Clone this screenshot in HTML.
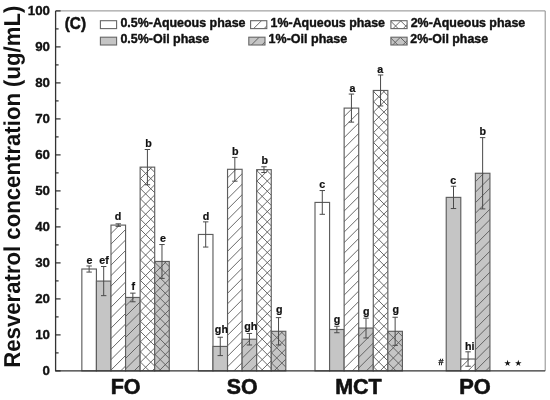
<!DOCTYPE html><html><head><meta charset="utf-8"><style>html,body{margin:0;padding:0;background:#fff;}svg{display:block;}text{font-family:"Liberation Sans",Arial,sans-serif;font-weight:bold;fill:#111;}</style></head><body>
<svg width="550" height="400" viewBox="0 0 550 400">
<defs>
</defs>
<rect x="81.85" y="269.02" width="14.57" height="101.88" fill="#fff"/>
<rect x="81.85" y="269.02" width="14.57" height="101.88" fill="none" stroke="#5e5e5e" stroke-width="1.15"/>
<path d="M89.13,265.96 V272.08 M86.43,265.96 h5.4 M86.43,272.08 h5.4" stroke="#4a4a4a" stroke-width="1" fill="none"/>
<rect x="96.42" y="281.08" width="14.57" height="89.82" fill="#c5c5c5"/>
<rect x="96.42" y="281.08" width="14.57" height="89.82" fill="none" stroke="#5e5e5e" stroke-width="1.15"/>
<path d="M103.70,266.50 V295.66 M101.00,266.50 h5.4 M101.00,295.66 h5.4" stroke="#4a4a4a" stroke-width="1" fill="none"/>
<rect x="110.99" y="225.10" width="14.57" height="145.80" fill="#fff"/>
<clipPath id="cFO2"><rect x="110.99" y="225.10" width="14.57" height="145.80"/></clipPath><path clip-path="url(#cFO2)" d="M109.99,224.10 L126.56,207.53 M109.99,234.60 L126.56,218.03 M109.99,245.10 L126.56,228.53 M109.99,255.60 L126.56,239.03 M109.99,266.10 L126.56,249.53 M109.99,276.60 L126.56,260.03 M109.99,287.10 L126.56,270.53 M109.99,297.60 L126.56,281.03 M109.99,308.10 L126.56,291.53 M109.99,318.60 L126.56,302.03 M109.99,329.10 L126.56,312.53 M109.99,339.60 L126.56,323.03 M109.99,350.10 L126.56,333.53 M109.99,360.60 L126.56,344.03 M109.99,371.10 L126.56,354.53 M109.99,381.60 L126.56,365.03" stroke="#585858" stroke-width="0.9" fill="none"/>
<rect x="110.99" y="225.10" width="14.57" height="145.80" fill="none" stroke="#5e5e5e" stroke-width="1.15"/>
<path d="M118.27,223.84 V226.36 M115.57,223.84 h5.4 M115.57,226.36 h5.4" stroke="#4a4a4a" stroke-width="1" fill="none"/>
<rect x="125.56" y="297.46" width="14.57" height="73.44" fill="#c5c5c5"/>
<clipPath id="cFO3"><rect x="125.56" y="297.46" width="14.57" height="73.44"/></clipPath><path clip-path="url(#cFO3)" d="M124.56,296.46 L141.13,279.89 M124.56,306.96 L141.13,290.39 M124.56,317.46 L141.13,300.89 M124.56,327.96 L141.13,311.39 M124.56,338.46 L141.13,321.89 M124.56,348.96 L141.13,332.39 M124.56,359.46 L141.13,342.89 M124.56,369.96 L141.13,353.39 M124.56,380.46 L141.13,363.89" stroke="#585858" stroke-width="0.9" fill="none"/>
<rect x="125.56" y="297.46" width="14.57" height="73.44" fill="none" stroke="#5e5e5e" stroke-width="1.15"/>
<path d="M132.84,293.14 V301.78 M130.15,293.14 h5.4 M130.15,301.78 h5.4" stroke="#4a4a4a" stroke-width="1" fill="none"/>
<rect x="140.13" y="167.14" width="14.57" height="203.76" fill="#fff"/>
<clipPath id="cFO4"><rect x="140.13" y="167.14" width="14.57" height="203.76"/></clipPath><path clip-path="url(#cFO4)" d="M139.13,169.74 L155.70,153.17 M139.13,179.94 L155.70,163.37 M139.13,190.14 L155.70,173.57 M139.13,200.34 L155.70,183.77 M139.13,210.54 L155.70,193.97 M139.13,220.74 L155.70,204.17 M139.13,230.94 L155.70,214.37 M139.13,241.14 L155.70,224.57 M139.13,251.34 L155.70,234.77 M139.13,261.54 L155.70,244.97 M139.13,271.74 L155.70,255.17 M139.13,281.94 L155.70,265.37 M139.13,292.14 L155.70,275.57 M139.13,302.34 L155.70,285.77 M139.13,312.54 L155.70,295.97 M139.13,322.74 L155.70,306.17 M139.13,332.94 L155.70,316.37 M139.13,343.14 L155.70,326.57 M139.13,353.34 L155.70,336.77 M139.13,363.54 L155.70,346.97 M139.13,373.74 L155.70,357.17 M139.13,383.94 L155.70,367.37 M139.13,156.74 L155.70,173.31 M139.13,166.94 L155.70,183.51 M139.13,177.14 L155.70,193.71 M139.13,187.34 L155.70,203.91 M139.13,197.54 L155.70,214.11 M139.13,207.74 L155.70,224.31 M139.13,217.94 L155.70,234.51 M139.13,228.14 L155.70,244.71 M139.13,238.34 L155.70,254.91 M139.13,248.54 L155.70,265.11 M139.13,258.74 L155.70,275.31 M139.13,268.94 L155.70,285.51 M139.13,279.14 L155.70,295.71 M139.13,289.34 L155.70,305.91 M139.13,299.54 L155.70,316.11 M139.13,309.74 L155.70,326.31 M139.13,319.94 L155.70,336.51 M139.13,330.14 L155.70,346.71 M139.13,340.34 L155.70,356.91 M139.13,350.54 L155.70,367.11 M139.13,360.74 L155.70,377.31 M139.13,370.94 L155.70,387.51" stroke="#585858" stroke-width="0.9" fill="none"/>
<rect x="140.13" y="167.14" width="14.57" height="203.76" fill="none" stroke="#5e5e5e" stroke-width="1.15"/>
<path d="M147.41,149.50 V184.78 M144.72,149.50 h5.4 M144.72,184.78 h5.4" stroke="#4a4a4a" stroke-width="1" fill="none"/>
<rect x="154.70" y="261.46" width="14.57" height="109.44" fill="#c5c5c5"/>
<clipPath id="cFO5"><rect x="154.70" y="261.46" width="14.57" height="109.44"/></clipPath><path clip-path="url(#cFO5)" d="M153.70,264.06 L170.27,247.49 M153.70,274.26 L170.27,257.69 M153.70,284.46 L170.27,267.89 M153.70,294.66 L170.27,278.09 M153.70,304.86 L170.27,288.29 M153.70,315.06 L170.27,298.49 M153.70,325.26 L170.27,308.69 M153.70,335.46 L170.27,318.89 M153.70,345.66 L170.27,329.09 M153.70,355.86 L170.27,339.29 M153.70,366.06 L170.27,349.49 M153.70,376.26 L170.27,359.69 M153.70,386.46 L170.27,369.89 M153.70,251.06 L170.27,267.63 M153.70,261.26 L170.27,277.83 M153.70,271.46 L170.27,288.03 M153.70,281.66 L170.27,298.23 M153.70,291.86 L170.27,308.43 M153.70,302.06 L170.27,318.63 M153.70,312.26 L170.27,328.83 M153.70,322.46 L170.27,339.03 M153.70,332.66 L170.27,349.23 M153.70,342.86 L170.27,359.43 M153.70,353.06 L170.27,369.63 M153.70,363.26 L170.27,379.83" stroke="#585858" stroke-width="0.9" fill="none"/>
<rect x="154.70" y="261.46" width="14.57" height="109.44" fill="none" stroke="#5e5e5e" stroke-width="1.15"/>
<path d="M161.98,244.54 V278.38 M159.28,244.54 h5.4 M159.28,278.38 h5.4" stroke="#4a4a4a" stroke-width="1" fill="none"/>
<rect x="198.40" y="234.46" width="14.57" height="136.44" fill="#fff"/>
<rect x="198.40" y="234.46" width="14.57" height="136.44" fill="none" stroke="#5e5e5e" stroke-width="1.15"/>
<path d="M205.69,221.86 V247.06 M202.99,221.86 h5.4 M202.99,247.06 h5.4" stroke="#4a4a4a" stroke-width="1" fill="none"/>
<rect x="212.97" y="346.42" width="14.57" height="24.48" fill="#c5c5c5"/>
<rect x="212.97" y="346.42" width="14.57" height="24.48" fill="none" stroke="#5e5e5e" stroke-width="1.15"/>
<path d="M220.25,337.24 V355.60 M217.56,337.24 h5.4 M217.56,355.60 h5.4" stroke="#4a4a4a" stroke-width="1" fill="none"/>
<rect x="227.54" y="169.30" width="14.57" height="201.60" fill="#fff"/>
<clipPath id="cSO2"><rect x="227.54" y="169.30" width="14.57" height="201.60"/></clipPath><path clip-path="url(#cSO2)" d="M226.54,168.30 L243.11,151.73 M226.54,178.80 L243.11,162.23 M226.54,189.30 L243.11,172.73 M226.54,199.80 L243.11,183.23 M226.54,210.30 L243.11,193.73 M226.54,220.80 L243.11,204.23 M226.54,231.30 L243.11,214.73 M226.54,241.80 L243.11,225.23 M226.54,252.30 L243.11,235.73 M226.54,262.80 L243.11,246.23 M226.54,273.30 L243.11,256.73 M226.54,283.80 L243.11,267.23 M226.54,294.30 L243.11,277.73 M226.54,304.80 L243.11,288.23 M226.54,315.30 L243.11,298.73 M226.54,325.80 L243.11,309.23 M226.54,336.30 L243.11,319.73 M226.54,346.80 L243.11,330.23 M226.54,357.30 L243.11,340.73 M226.54,367.80 L243.11,351.23 M226.54,378.30 L243.11,361.73" stroke="#585858" stroke-width="0.9" fill="none"/>
<rect x="227.54" y="169.30" width="14.57" height="201.60" fill="none" stroke="#5e5e5e" stroke-width="1.15"/>
<path d="M234.83,157.42 V181.18 M232.13,157.42 h5.4 M232.13,181.18 h5.4" stroke="#4a4a4a" stroke-width="1" fill="none"/>
<rect x="242.11" y="339.22" width="14.57" height="31.68" fill="#c5c5c5"/>
<clipPath id="cSO3"><rect x="242.11" y="339.22" width="14.57" height="31.68"/></clipPath><path clip-path="url(#cSO3)" d="M241.11,338.22 L257.68,321.65 M241.11,348.72 L257.68,332.15 M241.11,359.22 L257.68,342.65 M241.11,369.72 L257.68,353.15 M241.11,380.22 L257.68,363.65" stroke="#585858" stroke-width="0.9" fill="none"/>
<rect x="242.11" y="339.22" width="14.57" height="31.68" fill="none" stroke="#5e5e5e" stroke-width="1.15"/>
<path d="M249.40,333.46 V344.98 M246.70,333.46 h5.4 M246.70,344.98 h5.4" stroke="#4a4a4a" stroke-width="1" fill="none"/>
<rect x="256.68" y="169.66" width="14.57" height="201.24" fill="#fff"/>
<clipPath id="cSO4"><rect x="256.68" y="169.66" width="14.57" height="201.24"/></clipPath><path clip-path="url(#cSO4)" d="M255.68,172.26 L272.25,155.69 M255.68,182.46 L272.25,165.89 M255.68,192.66 L272.25,176.09 M255.68,202.86 L272.25,186.29 M255.68,213.06 L272.25,196.49 M255.68,223.26 L272.25,206.69 M255.68,233.46 L272.25,216.89 M255.68,243.66 L272.25,227.09 M255.68,253.86 L272.25,237.29 M255.68,264.06 L272.25,247.49 M255.68,274.26 L272.25,257.69 M255.68,284.46 L272.25,267.89 M255.68,294.66 L272.25,278.09 M255.68,304.86 L272.25,288.29 M255.68,315.06 L272.25,298.49 M255.68,325.26 L272.25,308.69 M255.68,335.46 L272.25,318.89 M255.68,345.66 L272.25,329.09 M255.68,355.86 L272.25,339.29 M255.68,366.06 L272.25,349.49 M255.68,376.26 L272.25,359.69 M255.68,386.46 L272.25,369.89 M255.68,159.26 L272.25,175.83 M255.68,169.46 L272.25,186.03 M255.68,179.66 L272.25,196.23 M255.68,189.86 L272.25,206.43 M255.68,200.06 L272.25,216.63 M255.68,210.26 L272.25,226.83 M255.68,220.46 L272.25,237.03 M255.68,230.66 L272.25,247.23 M255.68,240.86 L272.25,257.43 M255.68,251.06 L272.25,267.63 M255.68,261.26 L272.25,277.83 M255.68,271.46 L272.25,288.03 M255.68,281.66 L272.25,298.23 M255.68,291.86 L272.25,308.43 M255.68,302.06 L272.25,318.63 M255.68,312.26 L272.25,328.83 M255.68,322.46 L272.25,339.03 M255.68,332.66 L272.25,349.23 M255.68,342.86 L272.25,359.43 M255.68,353.06 L272.25,369.63 M255.68,363.26 L272.25,379.83" stroke="#585858" stroke-width="0.9" fill="none"/>
<rect x="256.68" y="169.66" width="14.57" height="201.24" fill="none" stroke="#5e5e5e" stroke-width="1.15"/>
<path d="M263.97,166.78 V172.54 M261.27,166.78 h5.4 M261.27,172.54 h5.4" stroke="#4a4a4a" stroke-width="1" fill="none"/>
<rect x="271.25" y="331.30" width="14.57" height="39.60" fill="#c5c5c5"/>
<clipPath id="cSO5"><rect x="271.25" y="331.30" width="14.57" height="39.60"/></clipPath><path clip-path="url(#cSO5)" d="M270.25,333.90 L286.82,317.33 M270.25,344.10 L286.82,327.53 M270.25,354.30 L286.82,337.73 M270.25,364.50 L286.82,347.93 M270.25,374.70 L286.82,358.13 M270.25,384.90 L286.82,368.33 M270.25,320.90 L286.82,337.47 M270.25,331.10 L286.82,347.67 M270.25,341.30 L286.82,357.87 M270.25,351.50 L286.82,368.07 M270.25,361.70 L286.82,378.27 M270.25,371.90 L286.82,388.47" stroke="#585858" stroke-width="0.9" fill="none"/>
<rect x="271.25" y="331.30" width="14.57" height="39.60" fill="none" stroke="#5e5e5e" stroke-width="1.15"/>
<path d="M278.54,317.62 V344.98 M275.84,317.62 h5.4 M275.84,344.98 h5.4" stroke="#4a4a4a" stroke-width="1" fill="none"/>
<rect x="315.00" y="202.42" width="14.57" height="168.48" fill="#fff"/>
<rect x="315.00" y="202.42" width="14.57" height="168.48" fill="none" stroke="#5e5e5e" stroke-width="1.15"/>
<path d="M322.29,190.54 V214.30 M319.59,190.54 h5.4 M319.59,214.30 h5.4" stroke="#4a4a4a" stroke-width="1" fill="none"/>
<rect x="329.57" y="329.50" width="14.57" height="41.40" fill="#c5c5c5"/>
<rect x="329.57" y="329.50" width="14.57" height="41.40" fill="none" stroke="#5e5e5e" stroke-width="1.15"/>
<path d="M336.86,326.26 V332.74 M334.16,326.26 h5.4 M334.16,332.74 h5.4" stroke="#4a4a4a" stroke-width="1" fill="none"/>
<rect x="344.14" y="108.10" width="14.57" height="262.80" fill="#fff"/>
<clipPath id="cMCT2"><rect x="344.14" y="108.10" width="14.57" height="262.80"/></clipPath><path clip-path="url(#cMCT2)" d="M343.14,107.10 L359.71,90.53 M343.14,117.60 L359.71,101.03 M343.14,128.10 L359.71,111.53 M343.14,138.60 L359.71,122.03 M343.14,149.10 L359.71,132.53 M343.14,159.60 L359.71,143.03 M343.14,170.10 L359.71,153.53 M343.14,180.60 L359.71,164.03 M343.14,191.10 L359.71,174.53 M343.14,201.60 L359.71,185.03 M343.14,212.10 L359.71,195.53 M343.14,222.60 L359.71,206.03 M343.14,233.10 L359.71,216.53 M343.14,243.60 L359.71,227.03 M343.14,254.10 L359.71,237.53 M343.14,264.60 L359.71,248.03 M343.14,275.10 L359.71,258.53 M343.14,285.60 L359.71,269.03 M343.14,296.10 L359.71,279.53 M343.14,306.60 L359.71,290.03 M343.14,317.10 L359.71,300.53 M343.14,327.60 L359.71,311.03 M343.14,338.10 L359.71,321.53 M343.14,348.60 L359.71,332.03 M343.14,359.10 L359.71,342.53 M343.14,369.60 L359.71,353.03 M343.14,380.10 L359.71,363.53" stroke="#585858" stroke-width="0.9" fill="none"/>
<rect x="344.14" y="108.10" width="14.57" height="262.80" fill="none" stroke="#5e5e5e" stroke-width="1.15"/>
<path d="M351.43,94.06 V122.14 M348.73,94.06 h5.4 M348.73,122.14 h5.4" stroke="#4a4a4a" stroke-width="1" fill="none"/>
<rect x="358.71" y="328.06" width="14.57" height="42.84" fill="#c5c5c5"/>
<clipPath id="cMCT3"><rect x="358.71" y="328.06" width="14.57" height="42.84"/></clipPath><path clip-path="url(#cMCT3)" d="M357.71,327.06 L374.28,310.49 M357.71,337.56 L374.28,320.99 M357.71,348.06 L374.28,331.49 M357.71,358.56 L374.28,341.99 M357.71,369.06 L374.28,352.49 M357.71,379.56 L374.28,362.99" stroke="#585858" stroke-width="0.9" fill="none"/>
<rect x="358.71" y="328.06" width="14.57" height="42.84" fill="none" stroke="#5e5e5e" stroke-width="1.15"/>
<path d="M366.00,318.16 V337.96 M363.30,318.16 h5.4 M363.30,337.96 h5.4" stroke="#4a4a4a" stroke-width="1" fill="none"/>
<rect x="373.28" y="90.46" width="14.57" height="280.44" fill="#fff"/>
<clipPath id="cMCT4"><rect x="373.28" y="90.46" width="14.57" height="280.44"/></clipPath><path clip-path="url(#cMCT4)" d="M372.28,93.06 L388.85,76.49 M372.28,103.26 L388.85,86.69 M372.28,113.46 L388.85,96.89 M372.28,123.66 L388.85,107.09 M372.28,133.86 L388.85,117.29 M372.28,144.06 L388.85,127.49 M372.28,154.26 L388.85,137.69 M372.28,164.46 L388.85,147.89 M372.28,174.66 L388.85,158.09 M372.28,184.86 L388.85,168.29 M372.28,195.06 L388.85,178.49 M372.28,205.26 L388.85,188.69 M372.28,215.46 L388.85,198.89 M372.28,225.66 L388.85,209.09 M372.28,235.86 L388.85,219.29 M372.28,246.06 L388.85,229.49 M372.28,256.26 L388.85,239.69 M372.28,266.46 L388.85,249.89 M372.28,276.66 L388.85,260.09 M372.28,286.86 L388.85,270.29 M372.28,297.06 L388.85,280.49 M372.28,307.26 L388.85,290.69 M372.28,317.46 L388.85,300.89 M372.28,327.66 L388.85,311.09 M372.28,337.86 L388.85,321.29 M372.28,348.06 L388.85,331.49 M372.28,358.26 L388.85,341.69 M372.28,368.46 L388.85,351.89 M372.28,378.66 L388.85,362.09 M372.28,80.06 L388.85,96.63 M372.28,90.26 L388.85,106.83 M372.28,100.46 L388.85,117.03 M372.28,110.66 L388.85,127.23 M372.28,120.86 L388.85,137.43 M372.28,131.06 L388.85,147.63 M372.28,141.26 L388.85,157.83 M372.28,151.46 L388.85,168.03 M372.28,161.66 L388.85,178.23 M372.28,171.86 L388.85,188.43 M372.28,182.06 L388.85,198.63 M372.28,192.26 L388.85,208.83 M372.28,202.46 L388.85,219.03 M372.28,212.66 L388.85,229.23 M372.28,222.86 L388.85,239.43 M372.28,233.06 L388.85,249.63 M372.28,243.26 L388.85,259.83 M372.28,253.46 L388.85,270.03 M372.28,263.66 L388.85,280.23 M372.28,273.86 L388.85,290.43 M372.28,284.06 L388.85,300.63 M372.28,294.26 L388.85,310.83 M372.28,304.46 L388.85,321.03 M372.28,314.66 L388.85,331.23 M372.28,324.86 L388.85,341.43 M372.28,335.06 L388.85,351.63 M372.28,345.26 L388.85,361.83 M372.28,355.46 L388.85,372.03 M372.28,365.66 L388.85,382.23" stroke="#585858" stroke-width="0.9" fill="none"/>
<rect x="373.28" y="90.46" width="14.57" height="280.44" fill="none" stroke="#5e5e5e" stroke-width="1.15"/>
<path d="M380.56,74.98 V105.94 M377.87,74.98 h5.4 M377.87,105.94 h5.4" stroke="#4a4a4a" stroke-width="1" fill="none"/>
<rect x="387.85" y="331.30" width="14.57" height="39.60" fill="#c5c5c5"/>
<clipPath id="cMCT5"><rect x="387.85" y="331.30" width="14.57" height="39.60"/></clipPath><path clip-path="url(#cMCT5)" d="M386.85,333.90 L403.42,317.33 M386.85,344.10 L403.42,327.53 M386.85,354.30 L403.42,337.73 M386.85,364.50 L403.42,347.93 M386.85,374.70 L403.42,358.13 M386.85,384.90 L403.42,368.33 M386.85,320.90 L403.42,337.47 M386.85,331.10 L403.42,347.67 M386.85,341.30 L403.42,357.87 M386.85,351.50 L403.42,368.07 M386.85,361.70 L403.42,378.27 M386.85,371.90 L403.42,388.47" stroke="#585858" stroke-width="0.9" fill="none"/>
<rect x="387.85" y="331.30" width="14.57" height="39.60" fill="none" stroke="#5e5e5e" stroke-width="1.15"/>
<path d="M395.14,317.26 V345.34 M392.44,317.26 h5.4 M392.44,345.34 h5.4" stroke="#4a4a4a" stroke-width="1" fill="none"/>
<rect x="446.22" y="197.38" width="14.57" height="173.52" fill="#c5c5c5"/>
<rect x="446.22" y="197.38" width="14.57" height="173.52" fill="none" stroke="#5e5e5e" stroke-width="1.15"/>
<path d="M453.50,186.22 V208.54 M450.81,186.22 h5.4 M450.81,208.54 h5.4" stroke="#4a4a4a" stroke-width="1" fill="none"/>
<rect x="460.79" y="359.02" width="14.57" height="11.88" fill="#fff"/>
<clipPath id="cPO2"><rect x="460.79" y="359.02" width="14.57" height="11.88"/></clipPath><path clip-path="url(#cPO2)" d="M459.79,358.02 L476.36,341.45 M459.79,368.52 L476.36,351.95 M459.79,379.02 L476.36,362.45" stroke="#585858" stroke-width="0.9" fill="none"/>
<rect x="460.79" y="359.02" width="14.57" height="11.88" fill="none" stroke="#5e5e5e" stroke-width="1.15"/>
<path d="M468.07,351.82 V366.22 M465.38,351.82 h5.4 M465.38,366.22 h5.4" stroke="#4a4a4a" stroke-width="1" fill="none"/>
<rect x="475.36" y="173.26" width="14.57" height="197.64" fill="#c5c5c5"/>
<clipPath id="cPO3"><rect x="475.36" y="173.26" width="14.57" height="197.64"/></clipPath><path clip-path="url(#cPO3)" d="M474.36,172.26 L490.93,155.69 M474.36,182.76 L490.93,166.19 M474.36,193.26 L490.93,176.69 M474.36,203.76 L490.93,187.19 M474.36,214.26 L490.93,197.69 M474.36,224.76 L490.93,208.19 M474.36,235.26 L490.93,218.69 M474.36,245.76 L490.93,229.19 M474.36,256.26 L490.93,239.69 M474.36,266.76 L490.93,250.19 M474.36,277.26 L490.93,260.69 M474.36,287.76 L490.93,271.19 M474.36,298.26 L490.93,281.69 M474.36,308.76 L490.93,292.19 M474.36,319.26 L490.93,302.69 M474.36,329.76 L490.93,313.19 M474.36,340.26 L490.93,323.69 M474.36,350.76 L490.93,334.19 M474.36,361.26 L490.93,344.69 M474.36,371.76 L490.93,355.19 M474.36,382.26 L490.93,365.69" stroke="#585858" stroke-width="0.9" fill="none"/>
<rect x="475.36" y="173.26" width="14.57" height="197.64" fill="none" stroke="#5e5e5e" stroke-width="1.15"/>
<path d="M482.64,137.62 V208.90 M479.94,137.62 h5.4 M479.94,208.90 h5.4" stroke="#4a4a4a" stroke-width="1" fill="none"/>
<text x="86.49" y="263.51" font-size="10" textLength="5.95" lengthAdjust="spacingAndGlyphs" stroke="#111" stroke-width="0.2">e</text>
<text x="99.27" y="263.89" font-size="10" textLength="9.51" lengthAdjust="spacingAndGlyphs" stroke="#111" stroke-width="0.2">ef</text>
<text x="114.81" y="220.39" font-size="10" textLength="6.54" lengthAdjust="spacingAndGlyphs" stroke="#111" stroke-width="0.2">d</text>
<text x="131.58" y="289.97" font-size="10" textLength="3.56" lengthAdjust="spacingAndGlyphs" stroke="#111" stroke-width="0.2">f</text>
<text x="145.37" y="147.09" font-size="10" textLength="6.54" lengthAdjust="spacingAndGlyphs" stroke="#111" stroke-width="0.2">b</text>
<text x="159.99" y="242.36" font-size="10" textLength="5.95" lengthAdjust="spacingAndGlyphs" stroke="#111" stroke-width="0.2">e</text>
<text x="202.81" y="220.29" font-size="10" textLength="6.54" lengthAdjust="spacingAndGlyphs" stroke="#111" stroke-width="0.2">d</text>
<text x="214.86" y="333.13" font-size="10" textLength="13.07" lengthAdjust="spacingAndGlyphs" stroke="#111" stroke-width="0.2">gh</text>
<text x="232.07" y="155.49" font-size="10" textLength="6.54" lengthAdjust="spacingAndGlyphs" stroke="#111" stroke-width="0.2">b</text>
<text x="244.31" y="329.83" font-size="10" textLength="13.07" lengthAdjust="spacingAndGlyphs" stroke="#111" stroke-width="0.2">gh</text>
<text x="261.47" y="164.39" font-size="10" textLength="6.54" lengthAdjust="spacingAndGlyphs" stroke="#111" stroke-width="0.2">b</text>
<text x="275.91" y="313.04" font-size="10" textLength="6.54" lengthAdjust="spacingAndGlyphs" stroke="#111" stroke-width="0.2">g</text>
<text x="319.19" y="187.76" font-size="10" textLength="5.95" lengthAdjust="spacingAndGlyphs" stroke="#111" stroke-width="0.2">c</text>
<text x="333.76" y="323.29" font-size="10" textLength="6.54" lengthAdjust="spacingAndGlyphs" stroke="#111" stroke-width="0.2">g</text>
<text x="349.41" y="91.56" font-size="10" textLength="5.95" lengthAdjust="spacingAndGlyphs" stroke="#111" stroke-width="0.2">a</text>
<text x="363.11" y="314.64" font-size="10" textLength="6.54" lengthAdjust="spacingAndGlyphs" stroke="#111" stroke-width="0.2">g</text>
<text x="377.31" y="72.56" font-size="10" textLength="5.95" lengthAdjust="spacingAndGlyphs" stroke="#111" stroke-width="0.2">a</text>
<text x="392.41" y="313.24" font-size="10" textLength="6.54" lengthAdjust="spacingAndGlyphs" stroke="#111" stroke-width="0.2">g</text>
<text x="450.39" y="183.96" font-size="10" textLength="5.95" lengthAdjust="spacingAndGlyphs" stroke="#111" stroke-width="0.2">c</text>
<text x="465.03" y="349.57" font-size="10" textLength="9.51" lengthAdjust="spacingAndGlyphs" stroke="#111" stroke-width="0.2">hi</text>
<text x="479.57" y="135.39" font-size="10" textLength="6.54" lengthAdjust="spacingAndGlyphs" stroke="#111" stroke-width="0.2">b</text>
<text x="441.1" y="365" font-size="9" text-anchor="middle" stroke="#111" stroke-width="0.3">#</text>
<text x="507.6" y="366" font-size="8.5" text-anchor="middle" style="font-family:'DejaVu Sans',sans-serif;font-weight:normal">★</text>
<text x="518.4" y="366" font-size="8.5" text-anchor="middle" style="font-family:'DejaVu Sans',sans-serif;font-weight:normal">★</text>
<path d="M55.6,10.9 H545.2 V370.9" stroke="#8c8c8c" stroke-width="1" fill="none"/>
<path d="M55.6,10.9 V370.9 H545.2" stroke="#333" stroke-width="1.3" fill="none"/>
<path d="M55.6,370.90 h5" stroke="#2a2a2a" stroke-width="1.2"/>
<path d="M55.6,352.90 h3" stroke="#2a2a2a" stroke-width="1.2"/>
<path d="M55.6,334.90 h5" stroke="#2a2a2a" stroke-width="1.2"/>
<path d="M55.6,316.90 h3" stroke="#2a2a2a" stroke-width="1.2"/>
<path d="M55.6,298.90 h5" stroke="#2a2a2a" stroke-width="1.2"/>
<path d="M55.6,280.90 h3" stroke="#2a2a2a" stroke-width="1.2"/>
<path d="M55.6,262.90 h5" stroke="#2a2a2a" stroke-width="1.2"/>
<path d="M55.6,244.90 h3" stroke="#2a2a2a" stroke-width="1.2"/>
<path d="M55.6,226.90 h5" stroke="#2a2a2a" stroke-width="1.2"/>
<path d="M55.6,208.90 h3" stroke="#2a2a2a" stroke-width="1.2"/>
<path d="M55.6,190.90 h5" stroke="#2a2a2a" stroke-width="1.2"/>
<path d="M55.6,172.90 h3" stroke="#2a2a2a" stroke-width="1.2"/>
<path d="M55.6,154.90 h5" stroke="#2a2a2a" stroke-width="1.2"/>
<path d="M55.6,136.90 h3" stroke="#2a2a2a" stroke-width="1.2"/>
<path d="M55.6,118.90 h5" stroke="#2a2a2a" stroke-width="1.2"/>
<path d="M55.6,100.90 h3" stroke="#2a2a2a" stroke-width="1.2"/>
<path d="M55.6,82.90 h5" stroke="#2a2a2a" stroke-width="1.2"/>
<path d="M55.6,64.90 h3" stroke="#2a2a2a" stroke-width="1.2"/>
<path d="M55.6,46.90 h5" stroke="#2a2a2a" stroke-width="1.2"/>
<path d="M55.6,28.90 h3" stroke="#2a2a2a" stroke-width="1.2"/>
<path d="M55.6,10.90 h5" stroke="#2a2a2a" stroke-width="1.2"/>
<text x="50" y="375.20" font-size="13.3" text-anchor="end" stroke="#111" stroke-width="0.35">0</text>
<text x="50" y="339.20" font-size="13.3" text-anchor="end" stroke="#111" stroke-width="0.35">10</text>
<text x="50" y="303.20" font-size="13.3" text-anchor="end" stroke="#111" stroke-width="0.35">20</text>
<text x="50" y="267.20" font-size="13.3" text-anchor="end" stroke="#111" stroke-width="0.35">30</text>
<text x="50" y="231.20" font-size="13.3" text-anchor="end" stroke="#111" stroke-width="0.35">40</text>
<text x="50" y="195.20" font-size="13.3" text-anchor="end" stroke="#111" stroke-width="0.35">50</text>
<text x="50" y="159.20" font-size="13.3" text-anchor="end" stroke="#111" stroke-width="0.35">60</text>
<text x="50" y="123.20" font-size="13.3" text-anchor="end" stroke="#111" stroke-width="0.35">70</text>
<text x="50" y="87.20" font-size="13.3" text-anchor="end" stroke="#111" stroke-width="0.35">80</text>
<text x="50" y="51.20" font-size="13.3" text-anchor="end" stroke="#111" stroke-width="0.35">90</text>
<text x="50" y="15.20" font-size="13.3" text-anchor="end" stroke="#111" stroke-width="0.35">100</text>
<text transform="translate(20.1,367.79) rotate(-90)" x="0" y="0" font-size="23" text-rendering="geometricPrecision" textLength="362.19" lengthAdjust="spacingAndGlyphs">Resveratrol concentration (ug/mL)</text>
<text x="120.41" y="27.00" font-size="12.3" textLength="125.10" lengthAdjust="spacingAndGlyphs" stroke="#111" stroke-width="0.4" stroke-linejoin="round">0.5%-Aqueous phase</text>
<text x="120.41" y="43.20" font-size="12.3" textLength="88.80" lengthAdjust="spacingAndGlyphs" stroke="#111" stroke-width="0.4" stroke-linejoin="round">0.5%-Oil phase</text>
<text x="270.62" y="27.00" font-size="12.3" textLength="114.38" lengthAdjust="spacingAndGlyphs" stroke="#111" stroke-width="0.4" stroke-linejoin="round">1%-Aqueous phase</text>
<text x="268.62" y="43.20" font-size="12.3" textLength="78.59" lengthAdjust="spacingAndGlyphs" stroke="#111" stroke-width="0.4" stroke-linejoin="round">1%-Oil phase</text>
<text x="410.71" y="27.00" font-size="12.3" textLength="114.50" lengthAdjust="spacingAndGlyphs" stroke="#111" stroke-width="0.4" stroke-linejoin="round">2%-Aqueous phase</text>
<text x="410.31" y="43.20" font-size="12.3" textLength="77.80" lengthAdjust="spacingAndGlyphs" stroke="#111" stroke-width="0.4" stroke-linejoin="round">2%-Oil phase</text>
<text x="64.73" y="28.85" font-size="16.2" textLength="21.27" lengthAdjust="spacingAndGlyphs" stroke="#111" stroke-width="0.5" stroke-linejoin="round">(C)</text>
<text x="110.65" y="393.50" font-size="21.8" textLength="29.95" lengthAdjust="spacingAndGlyphs" stroke="#111" stroke-width="0.6" stroke-linejoin="round">FO</text>
<text x="226.77" y="393.50" font-size="21.8" textLength="30.83" lengthAdjust="spacingAndGlyphs" stroke="#111" stroke-width="0.6" stroke-linejoin="round">SO</text>
<text x="335.16" y="393.50" font-size="21.8" textLength="46.58" lengthAdjust="spacingAndGlyphs" stroke="#111" stroke-width="0.6" stroke-linejoin="round">MCT</text>
<text x="459.13" y="393.50" font-size="21.8" textLength="31.57" lengthAdjust="spacingAndGlyphs" stroke="#111" stroke-width="0.6" stroke-linejoin="round">PO</text>
<rect x="100.4" y="20.7" width="16.2" height="7.9" fill="#fff"/>
<rect x="100.4" y="20.7" width="16.2" height="7.9" fill="none" stroke="#666" stroke-width="1.1"/>
<rect x="100.4" y="37.2" width="16.2" height="7.8" fill="#c5c5c5"/>
<rect x="100.4" y="37.2" width="16.2" height="7.8" fill="none" stroke="#666" stroke-width="1.1"/>
<rect x="250.6" y="20.7" width="16.2" height="7.9" fill="#fff"/>
<clipPath id="L2"><rect x="250.60" y="20.70" width="16.20" height="7.90"/></clipPath><path clip-path="url(#L2)" d="M249.60,22.10 L267.80,3.90 M249.60,32.60 L267.80,14.40 M249.60,43.10 L267.80,24.90" stroke="#585858" stroke-width="0.9" fill="none"/>
<rect x="250.6" y="20.7" width="16.2" height="7.9" fill="none" stroke="#666" stroke-width="1.1"/>
<rect x="248.8" y="37.2" width="16.2" height="7.8" fill="#c5c5c5"/>
<clipPath id="L3"><rect x="248.80" y="37.20" width="16.20" height="7.80"/></clipPath><path clip-path="url(#L3)" d="M247.80,38.10 L266.00,19.90 M247.80,48.60 L266.00,30.40 M247.80,59.10 L266.00,40.90" stroke="#585858" stroke-width="0.9" fill="none"/>
<rect x="248.8" y="37.2" width="16.2" height="7.8" fill="none" stroke="#666" stroke-width="1.1"/>
<rect x="390.9" y="20.7" width="16.2" height="7.9" fill="#fff"/>
<clipPath id="L4"><rect x="390.90" y="20.70" width="16.20" height="7.90"/></clipPath><path clip-path="url(#L4)" d="M389.90,21.50 L408.10,3.30 M389.90,31.70 L408.10,13.50 M389.90,41.90 L408.10,23.70 M389.90,10.10 L408.10,28.30 M389.90,20.30 L408.10,38.50" stroke="#585858" stroke-width="0.9" fill="none"/>
<rect x="390.9" y="20.7" width="16.2" height="7.9" fill="none" stroke="#666" stroke-width="1.1"/>
<rect x="390.9" y="37.2" width="16.2" height="7.8" fill="#c5c5c5"/>
<clipPath id="L5"><rect x="390.90" y="37.20" width="16.20" height="7.80"/></clipPath><path clip-path="url(#L5)" d="M389.90,37.50 L408.10,19.30 M389.90,47.70 L408.10,29.50 M389.90,57.90 L408.10,39.70 M389.90,26.90 L408.10,45.10 M389.90,37.10 L408.10,55.30" stroke="#585858" stroke-width="0.9" fill="none"/>
<rect x="390.9" y="37.2" width="16.2" height="7.8" fill="none" stroke="#666" stroke-width="1.1"/>
</svg></body></html>
